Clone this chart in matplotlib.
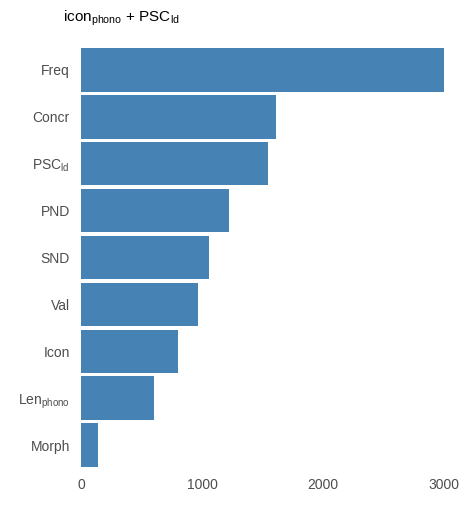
import matplotlib
matplotlib.use("Agg")
import matplotlib.pyplot as plt

plt.rcParams["mathtext.default"] = "regular"
plt.rcParams["font.family"] = ["Liberation Sans", "DejaVu Sans"]

labels = ["Freq", "Concr", r"PSC$_{ld}$", "PND", "SND", "Val", "Icon", r"Len$_{phono}$", "Morph"]
values = [3000, 1612, 1545, 1223, 1058, 967, 802, 603, 140]
xticks = [0, 1000, 2000, 3000]

fig = plt.figure(figsize=(4.74, 5.05), dpi=100)
ax = fig.add_axes([81 / 474, 38 / 505, 363 / 474, 419 / 505])

pos = list(range(len(labels)))[::-1]
ax.barh(pos, values, height=0.93, color="#4682B4")
ax.set_xlim(0, 3000)
ax.set_ylim(-0.465, len(labels) - 0.535)
ax.set_yticks(pos)
ax.set_yticklabels(labels)
ax.set_xticks(xticks)
ax.tick_params(length=0, colors="#4d4d4d", labelsize=10, pad=8)
for s in ax.spines.values():
    s.set_visible(False)

fig.text(63 / 474, 1 - 18 / 505, r"icon$_{phono}$ + PSC$_{ld}$", fontsize=11, va="center", ha="left")

fig.savefig("out.png", dpi=100)
